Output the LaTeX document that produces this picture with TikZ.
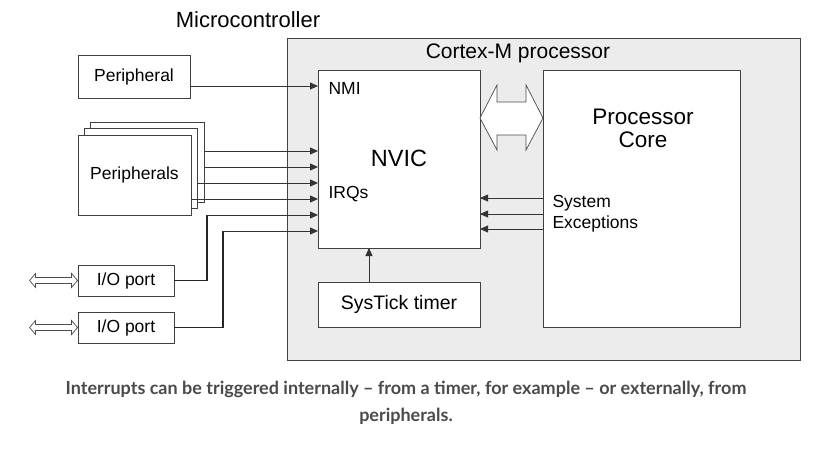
\documentclass[tikz,border=0pt]{standalone}
\usepackage{fontspec}
\setmainfont{Liberation Sans}
\newfontfamily\capfont{Lato}
\usetikzlibrary{arrows.meta,calc}
\definecolor{boxgray}{HTML}{ECECEC}
\definecolor{capgray}{HTML}{4A4A4A}
\begin{document}
\begin{tikzpicture}[x=1pt,y=-1pt,
  blk/.style={draw=black!75,line width=0.9pt,fill=white},
  sig/.style={draw=black!80,line width=0.8pt,-{Triangle[length=8pt,width=7pt]}},
  wire/.style={draw=black!85,line width=1.1pt},
  dbl/.style={draw=black!70,line width=0.7pt,fill=white},
  lbl/.style={font=\fontsize{17.5}{21}\selectfont}]
\useasboundingbox (0,0) rectangle (827,448);
\node[font=\fontsize{22}{26}\selectfont] (mc) at (248,20) {Microcontroller};
\draw[blk,fill=boxgray,line width=1pt] (287,38) rectangle (800,360);
\node[font=\fontsize{21}{25}\selectfont] (cm) at (518,53) {Cortex-M processor};
% NVIC and core
\draw[blk] (318,70) rectangle (480,248);
\coordinate (nvicW) at (318,0);
\coordinate (nvicE) at (480,0);
\node[font=\fontsize{23.5}{28}\selectfont] (nvic) at (399,158) {NVIC};
\node[anchor=west,lbl] (nmi) at (325,88) {NMI};
\node[anchor=west,lbl] (irq) at (325,194) {IRQs};
\draw[blk] (543,70) rectangle (740,327);
\coordinate (coreW) at (543,0);
\node[align=center,font=\fontsize{22.5}{23}\selectfont] (core) at (643,128) {Processor\\Core};
\node[anchor=west,align=left,font=\fontsize{17.5}{21}\selectfont] (sysex) at (549,214) {System\\Exceptions};
\foreach \y in {198,214,229} \draw[sig] (coreW |- 0,\y) -- (nvicE |- 0,\y);
\draw[dbl] (480,118) -- (497,85) -- (497,102) -- (526,102) -- (526,85) -- (543,118)
  -- (526,150) -- (526,135) -- (497,135) -- (497,150) -- cycle;
% SysTick
\node[blk,minimum width=162pt,minimum height=45pt,font=\fontsize{19.5}{23}\selectfont] (sys) at (399,304.5) {SysTick timer};
\draw[sig] (sys.north -| 369,0) -- (369,248);
% peripherals
\node[blk,minimum width=112pt,minimum height=43pt,lbl] (per) at (134,76.5) {Peripheral};
\draw[sig] (per.east |- 0,86) -- (nvicW |- 0,86);
\node[blk,minimum width=114pt,minimum height=80pt] (pC) at (147,162) {};
\node[blk,minimum width=113pt,minimum height=80pt] (pB) at (141,168) {};
\node[blk,minimum width=113pt,minimum height=80pt,lbl] (pA) at (134.5,175) {Peripherals};
\draw[sig] (pC.east |- 0,151) -- (nvicW |- 0,151);
\draw[sig] (pC.east |- 0,167) -- (nvicW |- 0,167);
\draw[sig] (pB.east |- 0,183) -- (nvicW |- 0,183);
\draw[sig] (pA.east |- 0,199) -- (nvicW |- 0,199);
% IO ports
\node[blk,minimum width=96pt,minimum height=31pt,lbl] (io1) at (126,280.5) {I/O port};
\node[blk,minimum width=96pt,minimum height=31pt,lbl] (io2) at (126,327.5) {I/O port};
\draw[wire] (io1.east) -- (207,280.5) -- (207,215);
\draw[sig] (207,215) -- (nvicW |- 0,215);
\draw[wire] (io2.east) -- (223,327.5) -- (223,231);
\draw[sig] (223,231) -- (nvicW |- 0,231);
\foreach \n in {io1,io2} {
  \draw[dbl] ($(\n.west)+(-48,0)$) -- ++(6,-7) -- ++(0,4) -- ++(36,0) -- ++(0,-4) -- ++(6,7)
    -- ++(-6,7) -- ++(0,-4) -- ++(-36,0) -- ++(0,4) -- cycle;
}
% caption
\node[align=center,text=capgray,font=\capfont\bfseries\fontsize{18}{27}\selectfont] (cap) at (406,403)
  {Interrupts can be triggered internally \textendash{} from a timer, for example \textendash{} or externally, from\\peripherals.};
\end{tikzpicture}
\end{document}
